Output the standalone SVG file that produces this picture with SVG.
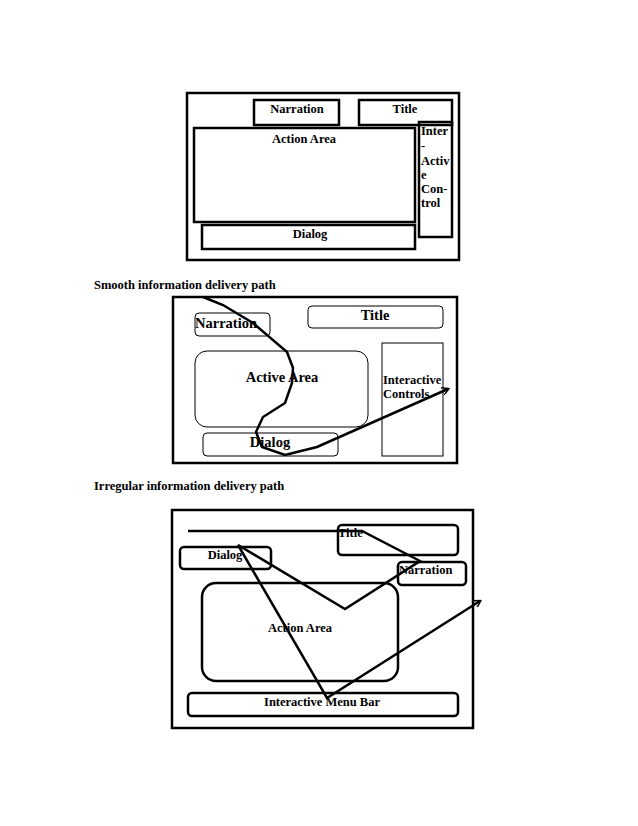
<svg xmlns="http://www.w3.org/2000/svg" width="638" height="826" viewBox="0 0 638 826">
<style>
text{font-family:"Liberation Serif","Times New Roman",serif;font-weight:bold;fill:#000}
.thick{fill:none;stroke:#000;stroke-width:2.5}
.thin{fill:none;stroke:#000;stroke-width:1}
.path{fill:none;stroke:#000;stroke-width:2.5;stroke-linejoin:miter}
.s12{font-size:12.5px}
.s14{font-size:14.5px}
.m{text-anchor:middle}
</style>
<defs>
<marker id="ah" markerWidth="8" markerHeight="8" refX="6" refY="4" orient="auto" markerUnits="userSpaceOnUse">
<path d="M0,0 L7,4 L0,8" fill="none" stroke="#000" stroke-width="1.5"/>
</marker>
</defs>
<rect width="638" height="826" fill="#fff"/>

<!-- Diagram 1 -->
<g id="d1-frame"><rect class="thick" x="187" y="93" width="272" height="167"/></g>
<g id="d1-narration"><rect class="thick" x="254" y="100" width="85" height="25"/><text class="s12 m" x="297" y="113">Narration</text></g>
<g id="d1-title"><rect class="thick" x="359" y="100" width="93" height="25"/><text class="s12 m" x="405" y="113">Title</text></g>
<g id="d1-action"><rect class="thick" x="194" y="128" width="221" height="94"/><text class="s12 m" x="304" y="143">Action Area</text></g>
<g id="d1-interactive"><rect class="thick" x="419" y="122" width="33" height="115"/>
<text class="s12" x="421" y="135">Inter</text><text class="s12" x="421" y="150">-</text><text class="s12" x="421" y="165">Activ</text><text class="s12" x="421" y="179">e</text><text class="s12" x="421" y="193">Con-</text><text class="s12" x="421" y="207">trol</text></g>
<g id="d1-dialog"><rect class="thick" x="202" y="225" width="213" height="24"/><text class="s12 m" x="310" y="238">Dialog</text></g>

<text class="s12" x="94" y="289">Smooth information delivery path</text>

<!-- Diagram 2 -->
<g id="d2-frame"><rect class="thick" x="173" y="297" width="284" height="166"/></g>
<g id="d2-narration"><rect class="thin" x="195" y="313" width="75" height="23" rx="4"/><text class="s14" x="195" y="328">Narration</text></g>
<g id="d2-title"><rect class="thin" x="308" y="306" width="135" height="22" rx="4"/><text class="s14 m" x="375" y="320">Title</text></g>
<g id="d2-active"><rect class="thin" x="195" y="351" width="173" height="76" rx="12"/><text class="s14 m" x="282" y="382">Active Area</text></g>
<g id="d2-interactive"><rect class="thin" x="382" y="343" width="61" height="113"/><text class="s12" x="383" y="384">Interactive</text><text class="s12" x="383" y="398">Controls</text></g>
<g id="d2-dialog"><rect class="thin" x="203" y="433" width="135" height="23" rx="4"/><text class="s14 m" x="270" y="447">Dialog</text></g>

<text class="s12" x="94" y="490">Irregular information delivery path</text>

<!-- Diagram 3 -->
<g id="d3-frame"><rect class="thick" x="172" y="510" width="301" height="218"/></g>
<g id="d3-title"><rect class="thick" x="338" y="525" width="120" height="30" rx="4"/><text class="s12" x="338" y="537">Title</text></g>
<g id="d3-dialog"><rect class="thick" x="180" y="547" width="91" height="22" rx="4"/><text class="s12 m" x="225" y="559">Dialog</text></g>
<g id="d3-narration"><rect class="thick" x="398" y="562" width="68" height="23" rx="4"/><text class="s12" x="399" y="574">Narration</text></g>
<g id="d3-action"><rect class="thick" x="202" y="583" width="196" height="98" rx="14"/><text class="s12 m" x="300" y="632">Action Area</text></g>
<g id="d3-menubar"><rect class="thick" x="188" y="693" width="270" height="23" rx="4"/><text class="s12 m" x="322" y="706">Interactive Menu Bar</text></g>

<g id="connectors">
<polyline class="path" points="203,297 223,305 253,323 287,352 293,368 292,383 285,403 263,417 256,432 262,447 285,455 317,447 448,389" marker-end="url(#ah)"/>
<polyline class="path" points="188,531 362,531 420,561 345,609 238,545 327,698 480,601" marker-end="url(#ah)"/>
</g>
</svg>
